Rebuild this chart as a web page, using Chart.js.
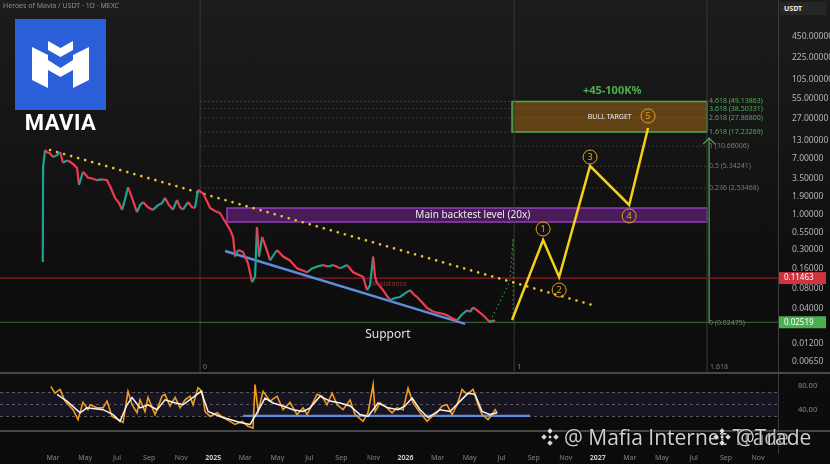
<!DOCTYPE html>
<html lang="en">
<head>
<meta charset="UTF-8">
<title>Heroes of Mavia / USDT - 1D - MEXC</title>
<script src="https://cdn.jsdelivr.net/npm/chart.js"></script>
<style>
  body { margin: 0; width: 830px; height: 464px; overflow: hidden; position: relative;
         background: linear-gradient(#1c1c1c, #0e0e0e 60%, #0b0b0b); font-family: "Noto Sans", sans-serif; }
  canvas { position: absolute; left: 0; }
  #main { top: 0; }
  #rsi { top: 372px; }
  #axis { top: 432px; }
  .header { position: absolute; left: 3px; top: 1px; font-size: 7px; color: #8e8e8e; }
  .logo { position: absolute; left: 15px; top: 19px; }
  .brand { position: absolute; left: 15px; top: 110px; width: 91px; text-align: center;
           font: bold 22px Roboto, sans-serif; color: #fff; letter-spacing: 0.5px; }
  .unit { position: absolute; left: 780px; top: 2px; width: 46px; height: 13px; background: #262626;
          color: #eee; font: bold 7px "Noto Sans", sans-serif; line-height: 13px; padding-left: 4px; box-sizing: border-box; }
  .mark { position: absolute; top: 423px; font: 21px "Open Sans", sans-serif; color: rgba(235,235,235,0.88);
          text-shadow: 0 0 2px #000, 0 0 2px #000; white-space: nowrap; display: flex; align-items: center; }
  .mark svg { margin-right: 4px; }
</style>
</head>
<body>
<canvas id="main" width="830" height="372"></canvas>
<canvas id="rsi" width="830" height="60"></canvas>
<canvas id="axis" width="830" height="32"></canvas>

<div class="header">Heroes of Mavia / USDT · 1D · MEXC</div>
<svg class="logo" width="91" height="91" viewBox="0 0 91 91">
  <rect width="91" height="91" fill="#2b5fd9"/>
  <polygon points="17,28 33,36 33,69 17,61" fill="#fff"/>
  <polygon points="74,28 58,36 58,69 74,61" fill="#fff"/>
  <polygon points="33,22 45.5,29 58,22 58,31 45.5,38 33,31" fill="#fff"/>
  <polygon points="33,41 45.5,49 58,41 58,51 45.5,58 33,51" fill="#fff"/>
</svg>
<div class="brand">MAVIA</div>
<div class="unit">USDT</div>

<div class="mark" style="left:540px">
  <svg width="20" height="20" viewBox="0 0 20 20"><g fill="rgba(235,235,235,0.9)" stroke="#000" stroke-width="0.4">
    <polygon points="10,1 13,4 10,7 7,4"/><polygon points="10,13 13,16 10,19 7,16"/>
    <polygon points="1,10 4,7 7,10 4,13"/><polygon points="19,10 16,7 13,10 16,13"/>
    <polygon points="10,8 12,10 10,12 8,10"/></g></svg>
  <span>@ Mafia Internet Trade</span>
</div>
<div class="mark" style="left:712px">
  <svg width="20" height="20" viewBox="0 0 20 20"><g fill="rgba(235,235,235,0.9)" stroke="#000" stroke-width="0.4">
    <polygon points="10,1 13,4 10,7 7,4"/><polygon points="10,13 13,16 10,19 7,16"/>
    <polygon points="1,10 4,7 7,10 4,13"/><polygon points="19,10 16,7 13,10 16,13"/>
    <polygon points="10,8 12,10 10,12 8,10"/></g></svg>
  <span>@Trade</span>
</div>

<script>
// x is in months, 0 = the first "Mar" on the time axis
const xTickMonths = [0, 2, 4, 6, 8, 10, 12, 14, 16, 18, 20, 22, 24, 26, 28, 30, 32, 34, 36, 38, 40, 42, 44];
const xTickLabels = ['Mar', 'May', 'Jul', 'Sep', 'Nov', '2025', 'Mar', 'May', 'Jul', 'Sep', 'Nov', '2026',
                     'Mar', 'May', 'Jul', 'Sep', 'Nov', '2027', 'Mar', 'May', 'Jul', 'Sep', 'Nov'];
const priceTicks = [450, 225, 105, 55, 27, 13, 7, 3.5, 1.9, 1, 0.55, 0.3, 0.16, 0.08, 0.04, 0.012, 0.0065];

const priceMonths = [-0.64, -0.62, -0.5, -0.37, -0.19, 0, 0.25, 0.44, 0.62, 0.87, 1.06, 1.31, 1.5, 1.62, 1.87,
  2.06, 2.18, 2.43, 2.75, 3.06, 3.37, 3.62, 3.87, 4.12, 4.31, 4.49, 4.68, 4.93, 5.24, 5.43, 5.62, 5.93, 6.24,
  6.55, 6.8, 6.99, 7.24, 7.49, 7.74, 7.93, 8.11, 8.43, 8.68, 8.86, 9.05, 9.36, 9.61, 9.8, 10.11, 10.42, 10.67,
  11.05, 11.24, 11.36, 11.55, 11.86, 12.17, 12.42, 12.61, 12.73, 12.86, 13.05, 13.3, 13.55, 13.8, 13.98, 14.36,
  14.79, 15.04, 15.23, 15.54, 15.86, 16.17, 16.48, 16.85, 17.17, 17.48, 17.73, 17.92, 18.35, 18.73, 19.04,
  19.35, 19.6, 19.79, 19.98, 20.1, 20.22, 20.6, 20.85, 21.04, 21.35, 21.66, 21.97, 22.28, 22.53, 22.72, 23.03,
  23.35, 23.66, 23.97, 24.28, 24.59, 24.91, 25.22, 25.53, 25.84, 26.03, 26.22, 26.53, 26.84, 27.09, 27.28,
  27.47, 27.59];
const priceValues = [0.2, 5.2, 9.3, 8.6, 8.3, 7.3, 7.8, 8.7, 6.0, 6.5, 6.2, 5.6, 5.0, 2.8, 4.4,
  3.9, 3.6, 3.5, 3.3, 3.4, 3.3, 2.5, 1.8, 1.5, 1.19, 1.7, 2.6, 1.8, 1.1, 1.4, 1.56, 1.3, 1.19,
  1.4, 1.5, 1.8, 1.4, 1.2, 1.67, 1.3, 1.2, 1.56, 1.3, 1.27, 2.36, 2.1, 1.6, 1.27, 1.15, 1.07, 0.85,
  0.6, 0.47, 0.24, 0.3, 0.28, 0.19, 0.1, 0.12, 0.66, 0.24, 0.47, 0.32, 0.21, 0.26, 0.3, 0.24,
  0.21, 0.18, 0.16, 0.15, 0.14, 0.16, 0.17, 0.18, 0.17, 0.18, 0.17, 0.16, 0.18, 0.14, 0.13,
  0.12, 0.076, 0.09, 0.24, 0.12, 0.097, 0.076, 0.062, 0.054, 0.058, 0.06, 0.068, 0.076, 0.065, 0.06, 0.05,
  0.041, 0.037, 0.035, 0.034, 0.032, 0.029, 0.027, 0.033, 0.038, 0.036, 0.042, 0.037, 0.032, 0.028, 0.025,
  0.027, 0.026];

const trendMonths = [-0.19, 33.65];
const trendValues = [9.3, 0.0456];
const supportMonths = [10.74, 25.72];
const supportValues = [0.29, 0.0238];
const projectionMonths = [27.28, 28.5, 28.72, 28.72];
const projectionValues = [0.026, 0.1, 0.45, 0.026];

const waveMonths = [28.65, 30.59, 31.59, 33.52, 35.96, 37.14];
const waveValues = [0.0272, 0.424, 0.119, 5.37, 1.41, 19.8];
const waveLabels = ['', '1', '2', '3', '4', '5'];

const resistanceLevel = 0.11463;
const supportLevel = 0.02519;

const fibLevels = ['4.618', '3.618', '2.618', '1.618', '1', '0.5', '0.236', '0'];
const fibPrices = [49.13863, 38.50331, 27.868, 17.23269, 10.66006, 5.34241, 2.53468, 0.02475];
const fibSpan = [9.18, 40.82];
const timeFibMonths = [9.18, 28.78, 40.82];
const timeFibLabels = ['0', '1', '1.618'];
const arrowMonth = 40.95;
const arrowTop = 14;

const backtestBox = [10.86, 40.82, 0.786, 1.27];
const bullBox = [28.65, 40.82, 17.23269, 49.13863];

const rsiMonths = [-0.14, 0.12, 0.44, 0.75, 1.25, 1.56, 1.87, 2.18, 2.31, 2.75, 3.12, 3.37, 3.68, 4.06, 4.37,
  4.68, 4.93, 5.24, 5.43, 5.74, 5.93, 6.37, 6.8, 6.99, 7.3, 7.62, 7.93, 8.24, 8.55, 8.74, 9.05, 9.3, 9.49, 9.8,
  10.24, 10.61, 11.05, 11.36, 11.8, 12.17, 12.48, 12.61, 12.8, 13.11, 13.55, 13.98, 14.36, 14.79, 15.23, 15.61,
  15.86, 16.48, 16.79, 17.1, 17.42, 17.73, 18.1, 18.54, 18.85, 19.35, 19.66, 19.98, 20.1, 20.41, 20.85, 21.16,
  21.47, 21.85, 22.16, 22.47, 22.91, 23.35, 23.66, 23.97, 24.28, 24.59, 24.91, 25.22, 25.53, 25.84, 26.22,
  26.53, 26.78, 27.15, 27.4, 27.59, 27.72];
const rsiValues = [79, 68, 74, 55, 41, 25, 53, 41, 49, 44, 44, 55, 30, 25, 20,
  71, 49, 36, 57, 38, 61, 33, 63, 66, 47, 61, 44, 57, 63, 49, 77, 71, 38, 30,
  36, 28, 22, 17, 22, 14, 11, 82, 38, 71, 55, 63, 41, 53, 33, 44,
  33, 66, 63, 49, 68, 49, 41, 57, 33, 22, 36, 82, 38, 52, 44, 36,
  44, 41, 76, 52, 36, 22, 30, 36, 47, 49, 33, 49, 74, 66, 74,
  49, 33, 25, 33, 41, 36];
const rsiMaMonths = [0.25, 0.87, 1.69, 2.12, 3.12, 3.75, 4.18, 4.62, 4.93, 5.43, 5.93, 6.49, 6.99, 7.49, 8.11,
  8.74, 9.24, 9.68, 10.42, 11.05, 11.67, 12.3, 12.73, 13.23, 13.73, 14.36, 14.98, 15.61, 16.04, 16.67, 17.29,
  17.92, 18.54, 19.16, 19.66, 20.29, 20.91, 21.54, 21.97, 22.41, 22.91, 23.41, 24.16, 24.78, 25.41, 25.91,
  26.34, 26.78, 27.28, 27.72];
const rsiMaValues = [66, 55, 36, 44, 41, 33, 22, 49, 61, 44, 49, 41, 57, 53, 49,
  61, 71, 38, 30, 25, 20, 17, 36, 60, 52, 47, 41, 38, 44, 63, 55,
  52, 47, 33, 30, 52, 44, 41, 47, 60, 41, 28, 41, 38, 55, 68,
  66, 38, 33, 36];
const rsiSupportMonths = [11.86, 29.78];
const rsiSupportValue = 31;
const rsiBands = [70, 50, 30];
const rsiTicks = [80, 40];

const X_MIN = -3.31, X_MAX = 45.25;
const Y_MIN = 0.00457, Y_MAX = 1600;
const RSI_MIN = 4.6, RSI_MAX = 102.5;
const AXIS_W = 52;

const GREEN = '#22a08f', RED = '#ef3b4f', YELLOW = '#f5cf1a', BLUE = '#5b8fde';

Chart.defaults.font.family = '"Noto Sans", sans-serif';

function pts(xs, ys) {
  return xs.map((m, i) => ({ x: m, y: Array.isArray(ys) ? ys[i] : ys }));
}

function rightAxis(extra) {
  return Object.assign({
    position: 'right',
    grid: { display: false },
    border: { display: true, color: '#3a3a3a' },
    afterFit: s => { s.width = AXIS_W; s.paddingTop = 0; s.paddingBottom = 0; }
  }, extra);
}

const baseOptions = {
  responsive: false,
  animation: false,
  layout: { padding: 0 },
  plugins: { legend: { display: false }, tooltip: { enabled: false } },
  elements: { point: { radius: 0 }, line: { tension: 0 } }
};

// ---------- main price panel ----------
const mainOverlay = {
  id: 'mainOverlay',
  beforeDatasetsDraw(chart) {
    const { ctx, scales: { x, y } } = chart;
    const box = (b, fill, stroke) => {
      const l = x.getPixelForValue(b[0]), r = x.getPixelForValue(b[1]);
      const t = y.getPixelForValue(b[3]), btm = y.getPixelForValue(b[2]);
      ctx.save();
      ctx.fillStyle = fill; ctx.fillRect(l, t, r - l, btm - t);
      ctx.strokeStyle = stroke; ctx.lineWidth = 1.5; ctx.strokeRect(l, t, r - l, btm - t);
      ctx.restore();
    };
    box(backtestBox, 'rgba(95, 32, 118, 0.72)', '#9340b8');
    box(bullBox, 'rgba(112, 74, 20, 0.85)', '#4caf50');
  },
  afterDatasetsDraw(chart) {
    const { ctx, scales: { x, y }, chartArea } = chart;
    ctx.save();
    ctx.textBaseline = 'middle';

    // box captions
    ctx.fillStyle = '#ececec';
    ctx.font = '10px "Noto Sans", sans-serif';
    ctx.textAlign = 'center';
    ctx.fillText('Main backtest level (20x)', x.getPixelForValue(26.2),
      (y.getPixelForValue(backtestBox[2]) + y.getPixelForValue(backtestBox[3])) / 2);
    ctx.font = '7px "Noto Sans", sans-serif';
    ctx.fillText('BULL TARGET', x.getPixelForValue(34.75), y.getPixelForValue(28.9));
    ctx.fillStyle = '#4caf50';
    ctx.font = 'bold 11px "Noto Sans", sans-serif';
    ctx.fillText('+45-100K%', x.getPixelForValue(34.9), y.getPixelForValue(72));

    ctx.fillStyle = '#e2e2e2';
    ctx.font = '12px "Noto Sans", sans-serif';
    ctx.fillText('Support', x.getPixelForValue(20.9), y.getPixelForValue(0.0165));
    ctx.fillStyle = '#9e2a2a';
    ctx.font = '7px "Noto Sans", sans-serif';
    ctx.fillText('Resistance', x.getPixelForValue(21.0), y.getPixelForValue(0.095));

    // wave counts
    const offs = [0, -11, 13, -9, 11, -12];
    waveLabels.forEach((lab, i) => {
      if (!lab) return;
      const px = x.getPixelForValue(waveMonths[i]), py = y.getPixelForValue(waveValues[i]) + offs[i];
      ctx.beginPath(); ctx.arc(px, py, 7, 0, Math.PI * 2);
      ctx.strokeStyle = '#e0a31a'; ctx.lineWidth = 1; ctx.stroke();
      ctx.fillStyle = '#e8a81c'; ctx.font = '9px "Noto Sans", sans-serif';
      ctx.fillText(lab, px, py + 0.5);
    });

    // fib labels
    ctx.textAlign = 'left';
    ctx.font = '7px "Noto Sans", sans-serif';
    fibLevels.forEach((lvl, i) => {
      ctx.fillStyle = i < 4 ? '#4fae55' : '#7c7c7c';
      ctx.fillText(lvl + ' (' + fibPrices[i].toFixed(5) + ')', x.getPixelForValue(fibSpan[1]) + 2,
        y.getPixelForValue(fibPrices[i]));
    });
    ctx.fillStyle = '#7c7c7c';
    ctx.font = '7px "Noto Sans", sans-serif';
    timeFibMonths.forEach((m, i) => ctx.fillText(timeFibLabels[i], x.getPixelForValue(m) + 3, chartArea.bottom - 5));

    // arrow head
    const ax = x.getPixelForValue(arrowMonth), ay = y.getPixelForValue(arrowTop);
    ctx.strokeStyle = '#4caf50'; ctx.lineWidth = 1.2;
    ctx.beginPath(); ctx.moveTo(ax - 6, ay + 6); ctx.lineTo(ax, ay); ctx.lineTo(ax + 6, ay + 6); ctx.stroke();
    ctx.restore();
  },
  afterDraw(chart) {
    const { ctx, scales: { y }, chartArea } = chart;
    ctx.save();
    ctx.font = '8px "Noto Sans", sans-serif';
    ctx.textBaseline = 'middle';
    ctx.textAlign = 'left';
    [[resistanceLevel, '#d2323f'], [supportLevel, '#4caf50']].forEach(([v, c]) => {
      const py = y.getPixelForValue(v);
      ctx.fillStyle = c;
      ctx.fillRect(chartArea.right + 1, py - 6, 47, 12);
      ctx.fillStyle = '#fff';
      ctx.fillText(v.toFixed(5), chartArea.right + 6, py);
    });
    ctx.restore();
  }
};

const mainDatasets = [
  { data: pts(waveMonths, waveValues), borderColor: YELLOW, borderWidth: 2.5, order: 0 },
  { data: pts(priceMonths, priceValues), borderWidth: 2.2, order: 1,
    segment: { borderColor: c => c.p1.parsed.y >= c.p0.parsed.y ? GREEN : RED } },
  { data: pts(supportMonths, supportValues), borderColor: BLUE, borderWidth: 2.5, order: 2 },
  { data: pts(trendMonths, trendValues), borderColor: '#eac52c', borderWidth: 2.6, borderDash: [0.1, 7.2],
    borderCapStyle: 'round', order: 3 },
  { data: pts(projectionMonths, projectionValues), borderColor: '#3d8a45', borderWidth: 1.2, borderDash: [1.5, 3], order: 4 },
  { data: pts([X_MIN, X_MAX], resistanceLevel), borderColor: '#8e1c24', borderWidth: 1.2, order: 5 },
  { data: pts([X_MIN, X_MAX], supportLevel), borderColor: '#3b6e3b', borderWidth: 1.2, order: 5 },
  { data: [{ x: arrowMonth, y: fibPrices[7] }, { x: arrowMonth, y: arrowTop }], borderColor: '#4caf50', borderWidth: 1.2, order: 5 }
];
fibPrices.forEach(p => mainDatasets.push({
  data: pts(fibSpan, p), borderColor: 'rgba(130,130,130,0.35)', borderWidth: 1, borderDash: [2, 2], order: 8
}));
timeFibMonths.forEach(m => mainDatasets.push({
  data: pts([m, m], [Y_MIN, Y_MAX]), borderColor: '#383838', borderWidth: 1, order: 9
}));

new Chart(document.getElementById('main'), {
  type: 'line',
  data: { datasets: mainDatasets },
  options: Object.assign({}, baseOptions, {
    scales: {
      x: { type: 'linear', min: X_MIN, max: X_MAX, display: false },
      y: rightAxis({
        type: 'logarithmic', min: Y_MIN, max: Y_MAX,
        afterBuildTicks: s => { s.ticks = priceTicks.map(v => ({ value: v })); },
        ticks: { color: '#b4b4b4', font: { size: 8.5 }, padding: 6, callback: v => Number(v).toFixed(5) }
      })
    }
  }),
  plugins: [mainOverlay]
});

// ---------- RSI panel ----------
const rsiOverlay = {
  id: 'rsiOverlay',
  beforeDatasetsDraw(chart) {
    const { ctx, scales: { y }, chartArea } = chart;
    ctx.save();
    const top = y.getPixelForValue(rsiBands[0]), btm = y.getPixelForValue(rsiBands[2]);
    ctx.fillStyle = 'rgba(88, 66, 150, 0.16)';
    ctx.fillRect(chartArea.left, top, chartArea.right - chartArea.left, btm - top);
    ctx.strokeStyle = 'rgba(150,150,150,0.55)';
    ctx.lineWidth = 1;
    ctx.setLineDash([3, 3]);
    rsiBands.forEach(b => {
      const py = Math.round(y.getPixelForValue(b)) + 0.5;
      ctx.beginPath(); ctx.moveTo(chartArea.left, py); ctx.lineTo(chartArea.right, py); ctx.stroke();
    });
    ctx.restore();
  },
  afterDraw(chart) {
    const { ctx, width, height } = chart;
    ctx.save();
    ctx.fillStyle = '#474747';
    ctx.fillRect(0, 0, width, 2);
    ctx.fillRect(0, height - 2, width, 2);
    ctx.restore();
  }
};

new Chart(document.getElementById('rsi'), {
  type: 'line',
  data: {
    datasets: [
      { data: pts(rsiMaMonths, rsiMaValues), borderColor: '#f4f4f4', borderWidth: 1.5, order: 0 },
      { data: pts(rsiMonths, rsiValues), borderColor: '#f39c1e', borderWidth: 1.6, order: 1 },
      { data: pts(rsiSupportMonths, rsiSupportValue), borderColor: BLUE, borderWidth: 2.2, order: 2 }
    ]
  },
  options: Object.assign({}, baseOptions, {
    scales: {
      x: { type: 'linear', min: X_MIN, max: X_MAX, display: false },
      y: rightAxis({
        type: 'linear', min: RSI_MIN, max: RSI_MAX,
        afterBuildTicks: s => { s.ticks = rsiTicks.map(v => ({ value: v })); },
        ticks: { color: '#8a8a8a', font: { size: 7.5 }, padding: 12, callback: v => Number(v).toFixed(2) }
      })
    }
  }),
  plugins: [rsiOverlay]
});

// ---------- time axis ----------
new Chart(document.getElementById('axis'), {
  type: 'line',
  data: { datasets: [] },
  options: Object.assign({}, baseOptions, {
    scales: {
      x: {
        type: 'linear', min: X_MIN, max: X_MAX,
        grid: { display: false, drawTicks: false },
        border: { display: false },
        afterBuildTicks: s => { s.ticks = xTickMonths.map(v => ({ value: v })); },
        afterFit: s => { s.height = 11; },
        ticks: {
          autoSkip: false, maxRotation: 0, padding: 1,
          color: c => /^\d{4}$/.test(xTickLabels[c.index]) ? '#c8c8c8' : '#828282',
          font: c => ({ size: 7, weight: /^\d{4}$/.test(xTickLabels[c.index]) ? 'bold' : 'normal' }),
          callback: (v, i) => xTickLabels[i]
        }
      },
      y: rightAxis({ display: true, min: 0, max: 1, ticks: { display: false } })
    }
  })
});
</script>
</body>
</html>
